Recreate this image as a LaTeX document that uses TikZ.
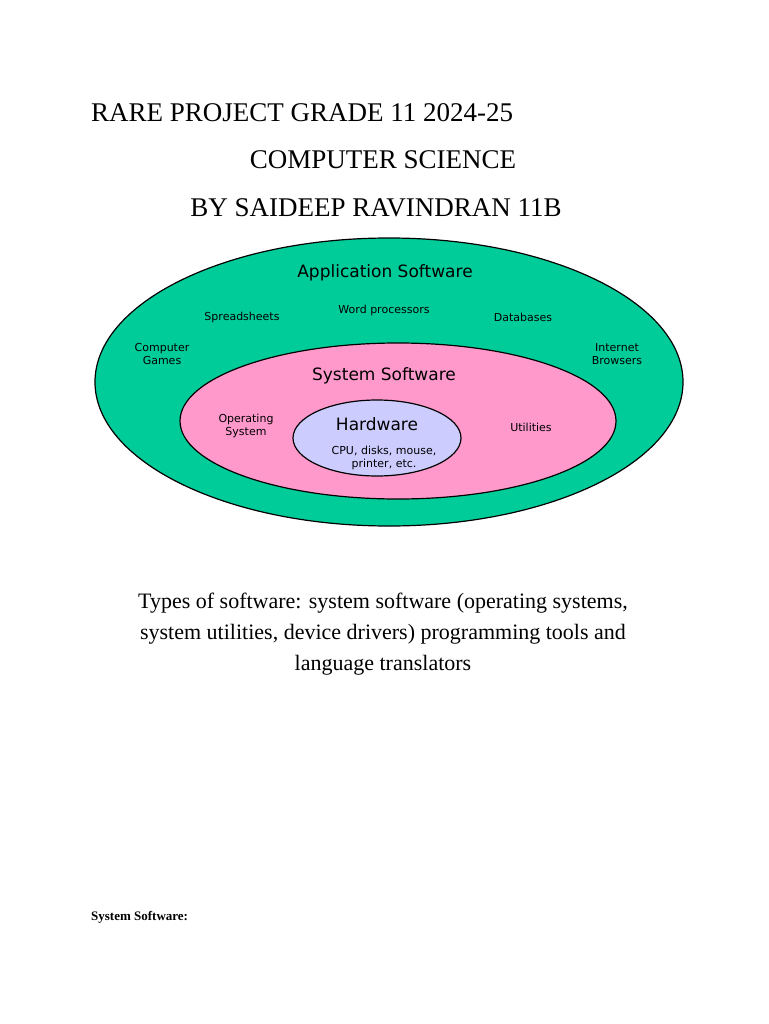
\documentclass[tikz,border=0pt]{standalone}
\usepackage{fontspec}
\setmainfont{Liberation Serif}
\newfontfamily\dsans{DejaVu Sans}
\begin{document}
\begin{tikzpicture}[x=1pt,y=-1pt,
  small/.style={font=\dsans\fontsize{11}{13}\selectfont,align=center,inner sep=0pt},
  big/.style={font=\dsans\fontsize{17}{20}\selectfont,inner sep=0pt},
  title/.style={font=\fontsize{27}{30}\selectfont,inner sep=0pt}]
\useasboundingbox (0,0) rectangle (768,1024);
\fill[white] (0,0) rectangle (768,1024);
\node[title,anchor=west] (t1) at (91,113) {RARE PROJECT GRADE 11 2024-25};
\node[title] (t2) at (383,160) {COMPUTER SCIENCE};
\node[title] (t3) at (376,208) {BY SAIDEEP RAVINDRAN 11B};
\draw[line width=1.2pt,fill={rgb,255:red,0;green,204;blue,153}] (389,382) ellipse [x radius=294,y radius=144];
\draw[line width=1.2pt,fill={rgb,255:red,255;green,153;blue,204}] (398,421) ellipse [x radius=218,y radius=78];
\draw[line width=1.2pt,fill={rgb,255:red,204;green,204;blue,255}] (377,438) ellipse [x radius=84,y radius=38];
\node[big] (as) at (385,273) {Application Software};
\node[small] (ss) at (242,317) {Spreadsheets};
\node[small] (wp) at (384,310) {Word processors};
\node[small] (db) at (523,317) {Databases};
\node[small] (cg) at (162,354) {Computer\\Games};
\node[small] (ib) at (617,354) {Internet\\Browsers};
\node[big] (sys) at (384,376) {System Software};
\node[small] (os) at (246,426) {Operating\\System};
\node[small] (ut) at (531,427) {Utilities};
\node[big] (hw) at (377,424) {Hardware};
\node[small] (cpu) at (384,458) {CPU, disks, mouse,\\printer, etc.};
\node[font=\fontsize{22}{31}\selectfont,align=center,inner sep=0pt] (body) at (383,634) {Types of software: system software (operating systems,\\system utilities, device drivers) programming tools and\\language translators};
\node[font=\bfseries\fontsize{13}{15}\selectfont,anchor=west,inner sep=0pt] (sw) at (91,917) {System Software:};
\end{tikzpicture}
\end{document}
